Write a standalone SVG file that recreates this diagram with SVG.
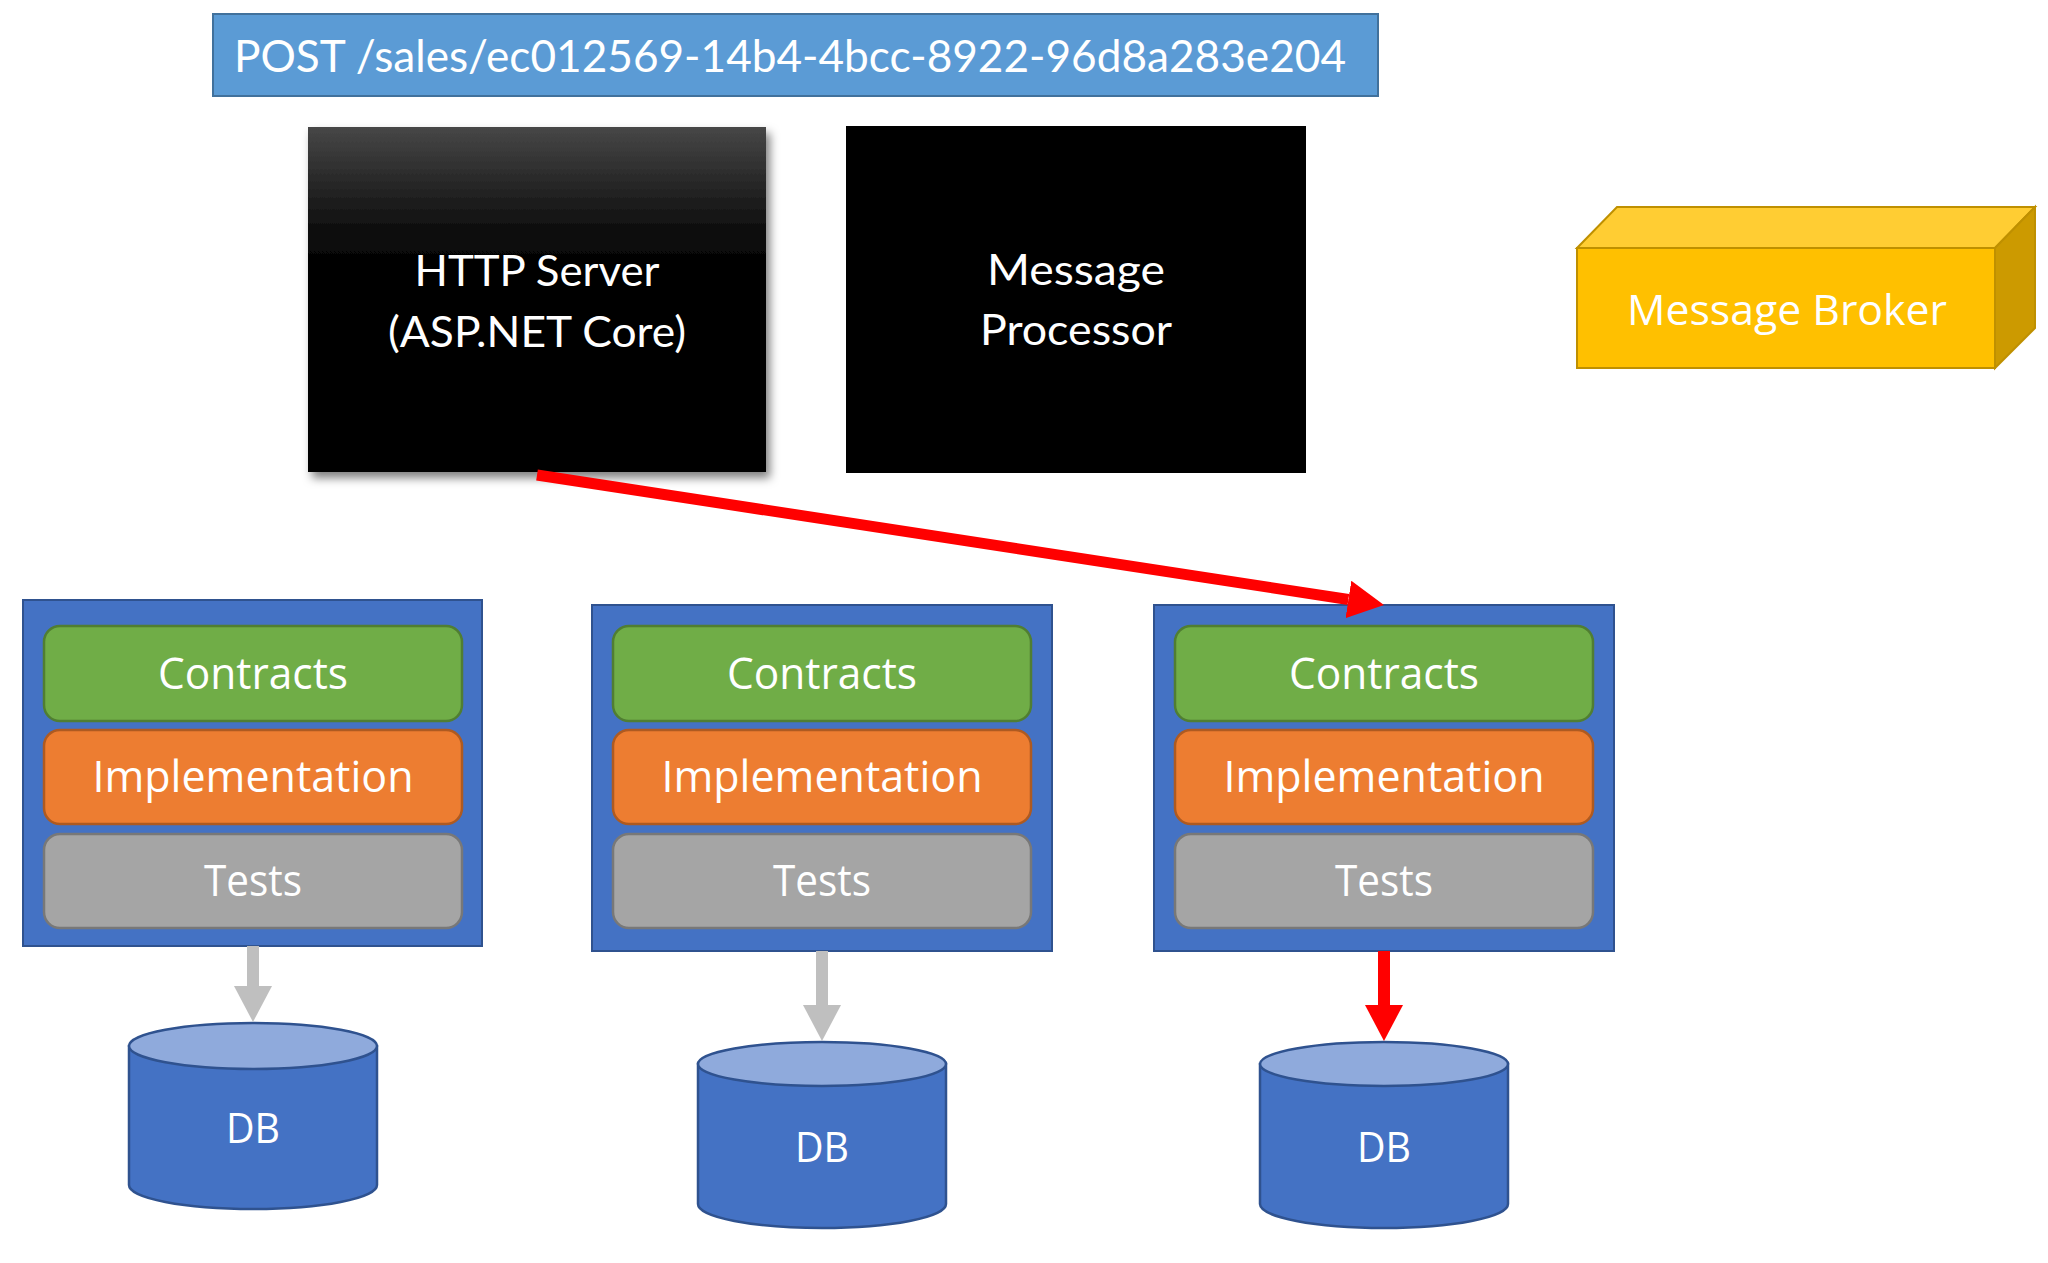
<svg xmlns="http://www.w3.org/2000/svg" width="2048" height="1263" viewBox="0 0 2048 1263">
<style>
  .lbl { fill:#ffffff; font-family:"Open Sans","Noto Sans","Liberation Sans",sans-serif; }
  .cal { fill:#ffffff; font-family:Lato,"Liberation Sans",sans-serif; }
  .svc { fill:#4472C4; stroke:#2F528F; stroke-width:2; }
  .contracts { fill:#70AD47; stroke:#507E32; stroke-width:2.5; }
  .impl { fill:#ED7D31; stroke:#AE5A21; stroke-width:2.5; }
  .tests { fill:#A5A5A5; stroke:#787878; stroke-width:2.5; }
  .dbbody { fill:#4472C4; stroke:#2F528F; stroke-width:2.5; }
  .dbtop { fill:#8FAADC; stroke:#2F528F; stroke-width:2.5; }
</style>
<defs>
  <linearGradient id="httpGrad" x1="0" y1="0" x2="0" y2="1">
    <stop offset="0" stop-color="#474747"/>
    <stop offset="0.15" stop-color="#2a2a2a"/>
    <stop offset="0.32" stop-color="#0a0a0a"/>
    <stop offset="0.45" stop-color="#000000"/>
    <stop offset="1" stop-color="#000000"/>
  </linearGradient>
  <filter id="shadow" x="-10%" y="-10%" width="125%" height="125%">
    <feDropShadow dx="4" dy="6" stdDeviation="5" flood-color="#000" flood-opacity="0.5"/>
  </filter>
  <marker id="headRed" viewBox="0 0 36 38" refX="0" refY="19" markerWidth="36" markerHeight="38" markerUnits="userSpaceOnUse" orient="auto">
    <polygon points="0,0 36,19 0,38" fill="#FF0000"/>
  </marker>
  <marker id="headGray" viewBox="0 0 36 38" refX="0" refY="19" markerWidth="36" markerHeight="38" markerUnits="userSpaceOnUse" orient="auto">
    <polygon points="0,0 36,19 0,38" fill="#BFBFBF"/>
  </marker>
</defs>

<g id="request">
  <rect x="213" y="14" width="1165" height="82" fill="#5B9BD5" stroke="#41719C" stroke-width="2"/>
  <text class="cal" x="234" y="72" font-size="44" textLength="1112" lengthAdjust="spacingAndGlyphs">POST /sales/ec012569-14b4-4bcc-8922-96d8a283e204</text>
</g>

<g id="http-server">
  <rect x="308" y="127" width="458" height="345" fill="url(#httpGrad)" filter="url(#shadow)"/>
  <text class="cal" x="537" y="286" font-size="42" text-anchor="middle" textLength="245" lengthAdjust="spacingAndGlyphs">HTTP Server</text>
  <text class="cal" x="537" y="347" font-size="42" text-anchor="middle" textLength="298" lengthAdjust="spacingAndGlyphs">(ASP.NET Core)</text>
</g>

<g id="message-processor">
  <rect x="846" y="126" width="460" height="347" fill="#000000"/>
  <text class="cal" x="1076" y="285" font-size="42" text-anchor="middle" textLength="178" lengthAdjust="spacingAndGlyphs">Message</text>
  <text class="cal" x="1076" y="345" font-size="42" text-anchor="middle" textLength="192" lengthAdjust="spacingAndGlyphs">Processor</text>
</g>

<g id="message-broker">
  <polygon points="1577,248 1617,207 2035,207 1995,248" fill="#FFCD33" stroke="#BF9000" stroke-width="2"/>
  <polygon points="1995,248 2035,207 2035,328 1995,368" fill="#CC9A00" stroke="#BF9000" stroke-width="2"/>
  <rect x="1577" y="248" width="418" height="120" fill="#FFC000" stroke="#BF9000" stroke-width="2"/>
  <text class="lbl" x="1787" y="325" font-size="42" text-anchor="middle" textLength="320" lengthAdjust="spacingAndGlyphs">Message Broker</text>
</g>

<g id="service-1">
  <rect class="svc" x="23" y="600" width="459" height="346"/>
  <rect class="contracts" x="44" y="626" width="418" height="95" rx="16"/>
  <rect class="impl" x="44" y="730" width="418" height="94" rx="16"/>
  <rect class="tests" x="44" y="834" width="418" height="94" rx="16"/>
  <text class="lbl" x="253" y="689" font-size="44" text-anchor="middle" textLength="190" lengthAdjust="spacingAndGlyphs">Contracts</text>
  <text class="lbl" x="253" y="792" font-size="44" text-anchor="middle" textLength="321" lengthAdjust="spacingAndGlyphs">Implementation</text>
  <text class="lbl" x="253" y="896" font-size="44" text-anchor="middle" textLength="98" lengthAdjust="spacingAndGlyphs">Tests</text>
</g>

<g id="service-2">
  <rect class="svc" x="592" y="605" width="460" height="346"/>
  <rect class="contracts" x="613" y="626" width="418" height="95" rx="16"/>
  <rect class="impl" x="613" y="730" width="418" height="94" rx="16"/>
  <rect class="tests" x="613" y="834" width="418" height="94" rx="16"/>
  <text class="lbl" x="822" y="689" font-size="44" text-anchor="middle" textLength="190" lengthAdjust="spacingAndGlyphs">Contracts</text>
  <text class="lbl" x="822" y="792" font-size="44" text-anchor="middle" textLength="321" lengthAdjust="spacingAndGlyphs">Implementation</text>
  <text class="lbl" x="822" y="896" font-size="44" text-anchor="middle" textLength="98" lengthAdjust="spacingAndGlyphs">Tests</text>
</g>

<g id="service-3">
  <rect class="svc" x="1154" y="605" width="460" height="346"/>
  <rect class="contracts" x="1175" y="626" width="418" height="95" rx="16"/>
  <rect class="impl" x="1175" y="730" width="418" height="94" rx="16"/>
  <rect class="tests" x="1175" y="834" width="418" height="94" rx="16"/>
  <text class="lbl" x="1384" y="689" font-size="44" text-anchor="middle" textLength="190" lengthAdjust="spacingAndGlyphs">Contracts</text>
  <text class="lbl" x="1384" y="792" font-size="44" text-anchor="middle" textLength="321" lengthAdjust="spacingAndGlyphs">Implementation</text>
  <text class="lbl" x="1384" y="896" font-size="44" text-anchor="middle" textLength="98" lengthAdjust="spacingAndGlyphs">Tests</text>
</g>

<g id="db-1">
  <path class="dbbody" d="M129,1046 L129,1185 A124,24 0 0 0 377,1185 L377,1046 Z"/>
  <ellipse class="dbtop" cx="253" cy="1046" rx="124" ry="23"/>
  <text class="lbl" x="253" y="1143" font-size="42" text-anchor="middle" textLength="54" lengthAdjust="spacingAndGlyphs">DB</text>
</g>

<g id="db-2">
  <path class="dbbody" d="M698,1064 L698,1204 A124,24 0 0 0 946,1204 L946,1064 Z"/>
  <ellipse class="dbtop" cx="822" cy="1064" rx="124" ry="22"/>
  <text class="lbl" x="822" y="1162" font-size="42" text-anchor="middle" textLength="54" lengthAdjust="spacingAndGlyphs">DB</text>
</g>

<g id="db-3">
  <path class="dbbody" d="M1260,1064 L1260,1204 A124,24 0 0 0 1508,1204 L1508,1064 Z"/>
  <ellipse class="dbtop" cx="1384" cy="1064" rx="124" ry="22"/>
  <text class="lbl" x="1384" y="1162" font-size="42" text-anchor="middle" textLength="54" lengthAdjust="spacingAndGlyphs">DB</text>
</g>

<g id="connectors">
  <line x1="537" y1="475" x2="1348.4" y2="599.5" stroke="#FF0000" stroke-width="11" marker-end="url(#headRed)"/>
  <line x1="253" y1="946" x2="253" y2="986" stroke="#BFBFBF" stroke-width="12" marker-end="url(#headGray)"/>
  <line x1="822" y1="951" x2="822" y2="1005" stroke="#BFBFBF" stroke-width="12" marker-end="url(#headGray)"/>
  <line x1="1384" y1="951" x2="1384" y2="1005" stroke="#FF0000" stroke-width="12" marker-end="url(#headRed)"/>
</g>
</svg>
